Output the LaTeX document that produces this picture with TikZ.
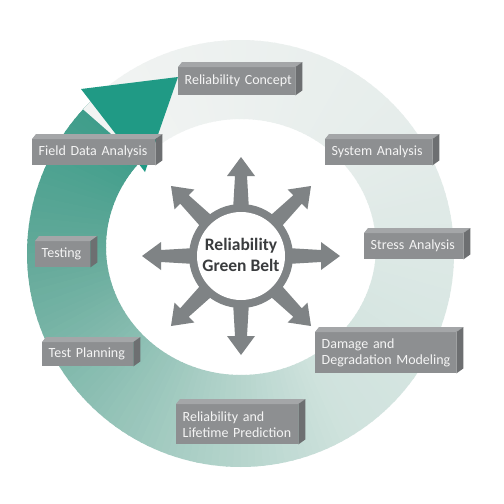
\documentclass[tikz,border=0pt]{standalone}
\usepackage{fontspec}
\setmainfont{Carlito}
\usetikzlibrary{calc}
\definecolor{cA}{HTML}{3B9C89}
\definecolor{cB}{HTML}{62A999}
\definecolor{cC}{HTML}{A5CCC2}
\definecolor{cD}{HTML}{CFE2DD}
\definecolor{cE}{HTML}{E6EDEB}
\definecolor{cF}{HTML}{F2F4F3}
\definecolor{headcol}{HTML}{209A85}
\definecolor{starcol}{HTML}{7F8385}
\definecolor{boxfront}{HTML}{8D8F91}
\definecolor{boxtop}{HTML}{A4A6A8}
\definecolor{boxside}{HTML}{6D6F71}
\definecolor{boxtext}{HTML}{F4F4F4}
\definecolor{coretext}{HTML}{3A3C3E}
\newcommand\ringpart[5]{%
  \foreach \i in {1,...,#5}{%
    \pgfmathsetmacro\aa{#1+(\i-1)*(#2-#1)/#5}%
    \pgfmathsetmacro\am{#1+(\i-0.5)*(#2-#1)/#5}%
    \pgfmathsetmacro\ab{#1+\i*(#2-#1)/#5+0.5}%
    \pgfmathsetmacro\p{100*(\i-0.5)/#5}%
    \fill[fill={#4!\p!#3}]
      ({240.5+213.5*cos(\aa)},{253.5-213.5*sin(\aa)}) --
      ({240.5+213.5*cos(\am)},{253.5-213.5*sin(\am)}) --
      ({240.5+213.5*cos(\ab)},{253.5-213.5*sin(\ab)}) --
      ({241+135*cos(\ab)},{247-128*sin(\ab)}) --
      ({241+135*cos(\am)},{247-128*sin(\am)}) --
      ({241+135*cos(\aa)},{247-128*sin(\aa)}) -- cycle;
  }}
\newcommand\boxfaces[1]{%
  \fill[boxtop] (#1.north west) -- ++(4,-5) -- ($(#1.north east)+(7,-5)$) -- (#1.north east) -- cycle;
  \fill[boxside] (#1.north east) -- ++(7,-5) -- ($(#1.south east)+(7,-5)$) -- (#1.south east) -- cycle;}
\tikzset{
  gbox/.style={fill=boxfront, text=boxtext, font=\fontsize{14}{16}\selectfont,
    inner xsep=6.5pt, inner ysep=0pt, align=left, anchor=north west},
  starpart/.style={fill=starcol}
}
\begin{document}
\begin{tikzpicture}[x=1pt,y=-1pt]
\useasboundingbox (0,0) rectangle (504,504);
\fill[white] (0,0) rectangle (504,504);
% ring with gradient
\ringpart{133}{180}{cA}{cB}{24}
\ringpart{180}{250}{cB}{cC}{35}
\ringpart{250}{300}{cC}{cD}{25}
\ringpart{300}{400}{cD}{cE}{50}
\ringpart{400}{497}{cE}{cF}{48}
% arrow head
\fill[headcol] (81,89) -- (178,77) -- (145,172) -- cycle;
% star
\foreach \r in {0,45,...,315}{
  \fill[starpart, rotate around={\r:(241,256)}]
    (233,210) -- (235,176) -- (227,176) -- (241,157) -- (255,176) -- (247,176) -- (249,210) -- cycle;
}
\fill[starcol] (241,256) circle (52pt);
\fill[white] (241,256) circle (44pt);
\node[font=\fontsize{17.5}{21}\selectfont\bfseries, text=coretext, align=center] (core) at (241,255) {Reliability\\Green Belt};
% boxes
\node[gbox, text width=104pt, minimum height=28pt] (rc) at (178,67) {\mbox{Reliability Concept}};
\node[gbox, text width=94pt, minimum height=26pt] (sa) at (325,139) {\mbox{System Analysis}};
\node[gbox, text width=86pt, minimum height=26pt] (st) at (364,233) {\mbox{Stress Analysis}};
\node[gbox, text width=128pt, minimum height=41pt] (dd) at (315,332) {\mbox{Damage and}\\\mbox{Degradation Modeling}};
\node[gbox, text width=109pt, minimum height=40pt] (rl) at (176,404) {\mbox{Reliability and}\\\mbox{Lifetime Prediction}};
\node[gbox, text width=78pt, minimum height=24pt] (tp) at (42,342) {\mbox{Test Planning}};
\node[gbox, text width=42pt, minimum height=26pt] (te) at (35,241) {\mbox{Testing}};
\node[gbox, text width=110pt, minimum height=26pt] (fd) at (32,139) {\mbox{Field Data Analysis}};
\foreach \n in {rc,sa,st,dd,rl,tp,te,fd}{\boxfaces{\n}}
\end{tikzpicture}
\end{document}
